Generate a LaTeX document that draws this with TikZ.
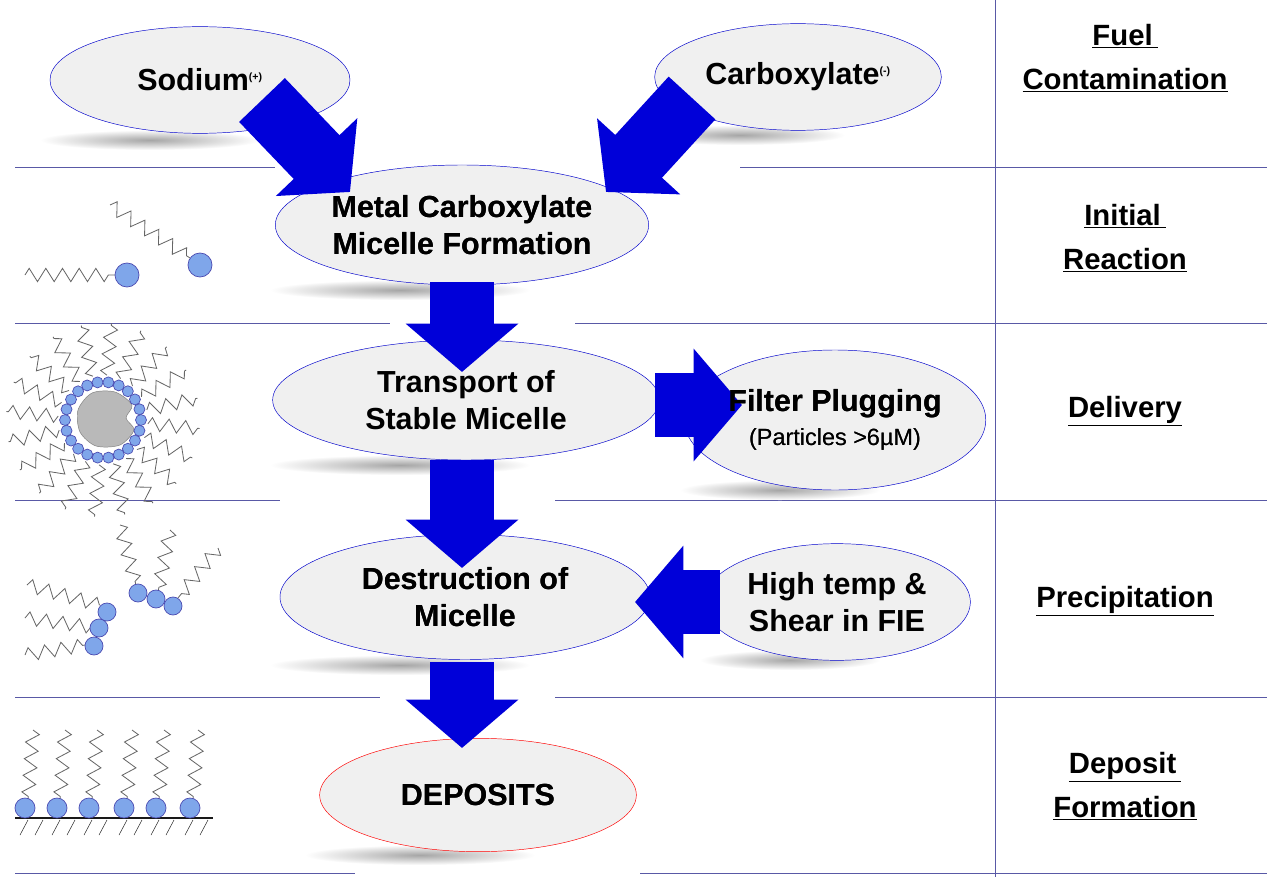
\documentclass[tikz,border=0pt]{standalone}
\usepackage{fontspec}
\setmainfont{Liberation Sans}
\usetikzlibrary{arrows.meta}
\usetikzlibrary{positioning}
\usetikzlibrary{shapes.geometric}
\usetikzlibrary{decorations.pathmorphing}

\definecolor{ballblue}{HTML}{7FA6EA}
\tikzset{
  stage/.style={ellipse, draw=blue!80!black, fill=gray!12, inner sep=0pt, align=center,
    font=\fontsize{26}{31}\selectfont\bfseries},
  flow/.style={blue!85!black, line width=1.9cm, -{Triangle[length=1.45cm, width=3.3cm]}},
  rule/.style={blue!30!gray, line width=0.6pt},
  chain/.style={gray!80!black, line width=0.7pt, decorate,
    decoration={zigzag, segment length=0.5cm, amplitude=0.2cm}},
  ball/.style={draw=blue!40!gray, fill=ballblue, line width=0.6pt},
  phase/.style={align=center, font=\fontsize{25}{38}\selectfont\bfseries},
}
\newcommand{\groundshadow}[3]{\shade[inner color=gray!70, outer color=white] (#1,#2) ellipse[x radius=#3*0.03cm, y radius=0.3cm];}

\begin{document}
\begin{tikzpicture}[x=0.03cm, y=-0.03cm]
	\useasboundingbox (0,0) rectangle (1267,877);
	\fill[white] (0,0) rectangle (1267,877);

	% section rules
	\draw[rule] (995,0) -- (995,877);
	\draw[rule] (15,167) -- (275,167);  \draw[rule] (740,167) -- (1267,167);
	\draw[rule] (15,323) -- (390,323);  \draw[rule] (575,323) -- (1267,323);
	\draw[rule] (15,500) -- (280,500);  \draw[rule] (555,500) -- (1267,500);
	\draw[rule] (15,697) -- (380,697);  \draw[rule] (555,697) -- (1267,697);
	\draw[rule] (15,873) -- (355,873);  \draw[rule] (640,873) -- (1267,873);

	% shadows
	\groundshadow{150}{140}{110}
	\groundshadow{740}{135}{105}
	\groundshadow{400}{290}{130}
	\groundshadow{400}{465}{130}
	\groundshadow{780}{490}{100}
	\groundshadow{400}{665}{130}
	\groundshadow{790}{660}{90}
	\groundshadow{420}{855}{115}

	% stages
	\node[stage, minimum width=9cm, minimum height=3.2cm] (sodium) at (200,80) {Sodium\textsuperscript{\small(+)}};
	\node[stage, minimum width=8.6cm, minimum height=3.2cm] (carbox) at (798,77) {Carboxylate\textsuperscript{\small(-)}};
	\node[stage, minimum width=11.2cm, minimum height=3.6cm] (micelle) at (462,225) {Metal Carboxylate\\Micelle Formation};
	\node[stage, minimum width=11.6cm, minimum height=3.6cm] (transport) at (466,400) {Transport of\\Stable Micelle};
	\node[stage, minimum width=8.4cm, minimum height=4.2cm] (filter) at (835,420) {Filter Plugging\\[-2pt]{\mdseries\fontsize{20}{24}\selectfont(Particles >6µM)}};
	\node[stage, minimum width=11.1cm, minimum height=3.75cm] (destruct) at (465,597) {Destruction of\\Micelle};
	\node[stage, minimum width=8cm, minimum height=3.5cm] (hightemp) at (837,602) {High temp \&\\Shear in FIE};
	\node[stage, draw=red, minimum width=9.5cm, minimum height=3.4cm] (deposits) at (478,795) {DEPOSITS};

	% arrow ends
	\coordinate (sodout) at (262,100);
	\coordinate (sodin) at (350,192);
	\coordinate (carout) at (692,98);
	\coordinate (carin) at (606,192);
	\coordinate (micout) at (462,282);
	\coordinate (trin) at (462,372);
	\coordinate (trout) at (655,405);
	\coordinate (filin) at (742,405);
	\coordinate (trdown) at (462,460);
	\coordinate (desin) at (462,568);
	\coordinate (hotout) at (720,602);
	\coordinate (desside) at (635,602);
	\coordinate (desout) at (462,662);
	\coordinate (depin) at (462,748);

	% flow arrows
	\draw[flow] (sodout) -- (sodin);
	\draw[flow] (carout) -- (carin);
	\draw[flow] (micout) -- (trin);
	\draw[flow] (trout) -- (filin);
	\draw[flow] (trdown) -- (desin);
	\draw[flow] (hotout) -- (desside);
	\draw[flow] (desout) -- (depin);

	% text over arrows
	\node[font=\fontsize{26}{31}\selectfont\bfseries, align=center] at (micelle) {Metal Carboxylate\\Micelle Formation};
	\node[font=\fontsize{26}{31}\selectfont\bfseries, align=center] at (filter) {Filter Plugging\\[-2pt]{\mdseries\fontsize{20}{24}\selectfont(Particles >6µM)}};
	\node[font=\fontsize{26}{31}\selectfont\bfseries, align=center] at (destruct) {Destruction of\\Micelle};
	\node[font=\fontsize{26}{31}\selectfont\bfseries] at (deposits) {DEPOSITS};

	% phase labels
	\node[phase] (fuel) at (1125,58) {\underline{Fuel\,}\\\underline{Contamination}};
	\node[phase] (initial) at (1125,238) {\underline{Initial\,}\\\underline{Reaction}};
	\node[phase] (delivery) at (1125,411) {\underline{Delivery}};
	\node[phase] (precip) at (1125,601) {\underline{Precipitation}};
	\node[phase] (deposit) at (1125,786) {\underline{Deposit\,}\\\underline{Formation}};

	% initial reaction
	\draw[chain] (25,275) -- (115,275);
	\draw[chain] (110,205) -- (190,258);
	\filldraw[ball] (127,275) circle (12);
	\filldraw[ball] (200,265) circle (12);

	% stable micelle
	\foreach \a in {0,18,...,342}
		\draw[chain] (103,420) ++(\a+5:45) -- ++(\a+5:52);
	\draw[fill=gray!55, draw=gray] plot[smooth cycle] coordinates {(78,410) (92,393) (115,392) (132,405) (126,418) (134,430) (120,445) (96,446) (80,432)};
	\foreach \a in {0,16.36,...,350}
		\filldraw[ball] (103,420) ++(\a:38) circle (5.5);

	% precipitation
	\draw[chain] (27,585) -- (100,605);
	\draw[chain] (25,618) -- (92,627);
	\draw[chain] (25,655) -- (85,645);
	\draw[chain] (120,525) -- (136,585);
	\draw[chain] (170,530) -- (158,592);
	\draw[chain] (218,548) -- (178,598);
	\foreach \x/\y in {107/612, 99/628, 94/646, 138/593, 156/599, 173/606}
		\filldraw[ball] (\x,\y) circle (9);

	% deposit formation
	\draw[gray!20!black, line width=1pt] (15,818) -- (213,818);
	\foreach \x in {25,57,89,124,156,190} {
		\draw[chain] (\x+8,730) -- (\x+3,800);
		\filldraw[ball] (\x,808) circle (10);
		\draw[gray!20!black] (\x-5,835) -- (\x+3,820);
		\draw[gray!20!black] (\x+10,835) -- (\x+18,820);
	}
\end{tikzpicture}
\end{document}
